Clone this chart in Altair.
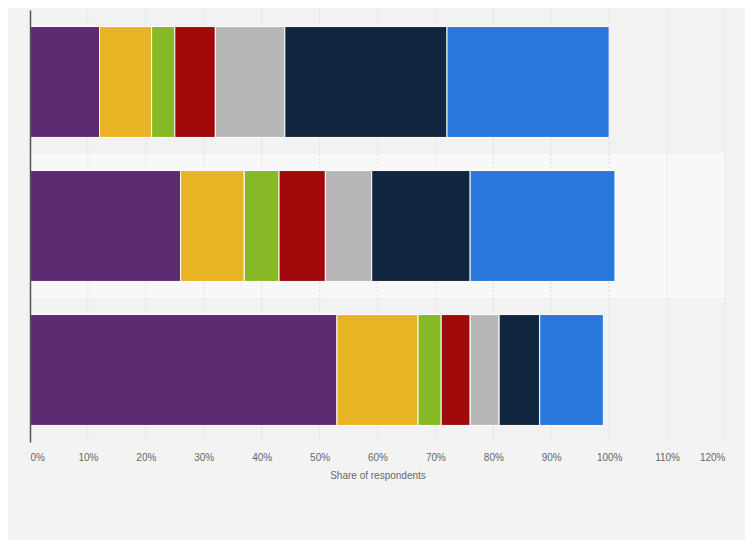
import altair as alt
import pandas as pd

groups = ["Group 1", "Group 2", "Group 3"]
series = ["Series 1", "Series 2", "Series 3", "Series 4", "Series 5", "Series 6", "Series 7"]
colors = ["#5c2a70", "#e9b424", "#86b925", "#a10a0a", "#b7b7b7", "#0f263e", "#2777dc"]
values = [
    [12, 9, 4, 7, 12, 28, 28],
    [26, 11, 6, 8, 8, 17, 25],
    [53, 14, 4, 5, 5, 7, 11],
]
band_colors = ["#f2f2f2", "#f8f8f8", "#f2f2f2"]
ticks = [0, 10, 20, 30, 40, 50, 60, 70, 80, 90, 100, 110, 120]

rows = []
for g, vals in zip(groups, values):
    for i, (s, v) in enumerate(zip(series, vals)):
        rows.append({"group": g, "series": s, "idx": i, "value": v})
df = pd.DataFrame(rows)
bands = pd.DataFrame({"group": groups, "shade": band_colors})
grid = pd.DataFrame({"t": ticks})

W, H = 695, 432
ysc = alt.Scale(domain=groups, paddingInner=0, paddingOuter=0)
xsc = alt.Scale(domain=[0, 120], nice=False)

band_layer = alt.Chart(bands).mark_rect().encode(
    y=alt.Y("group:N", scale=ysc, axis=alt.Axis(labels=False, ticks=False, title=None,
                                                   domainColor="#555555", domainWidth=1.5, grid=False)),
    x=alt.datum(0, scale=xsc),
    x2=alt.datum(120),
    color=alt.Color("shade:N", scale=None),
)

grid_layer = alt.Chart(grid).mark_rule(color="#dddddd", strokeDash=[2, 2], strokeWidth=1).encode(
    x=alt.X("t:Q", scale=xsc),
)

bars = alt.Chart(df).mark_bar(height=alt.RelativeBandSize(0.77), stroke="white", strokeWidth=1).encode(
    y=alt.Y("group:N", scale=ysc),
    x=alt.X("value:Q", stack="zero", scale=xsc,
            axis=alt.Axis(values=ticks, labelExpr="datum.value + '%'", title="Share of respondents",
                          grid=False, domain=False, ticks=False, labelFlush=True,
                          labelPadding=10, titlePadding=8, labelColor="#666666",
                          titleColor="#666666", labelFontSize=10, titleFontSize=10,
                          labelFont="Liberation Sans", titleFont="Liberation Sans",
                          titleFontWeight="normal")),
    color=alt.Color("series:N", scale=alt.Scale(domain=series, range=colors), legend=None),
    order=alt.Order("idx:Q"),
)

chart = alt.layer(band_layer, grid_layer, bars).properties(
    width=W, height=H,
    background="#f3f3f3",
    padding={"left": 22, "top": 2, "right": 20, "bottom": 98},
    autosize=alt.AutoSizeParams(type="none"),
).configure_view(stroke=None)

chart.save("out.html", embed_options={"renderer": "svg", "actions": False})
